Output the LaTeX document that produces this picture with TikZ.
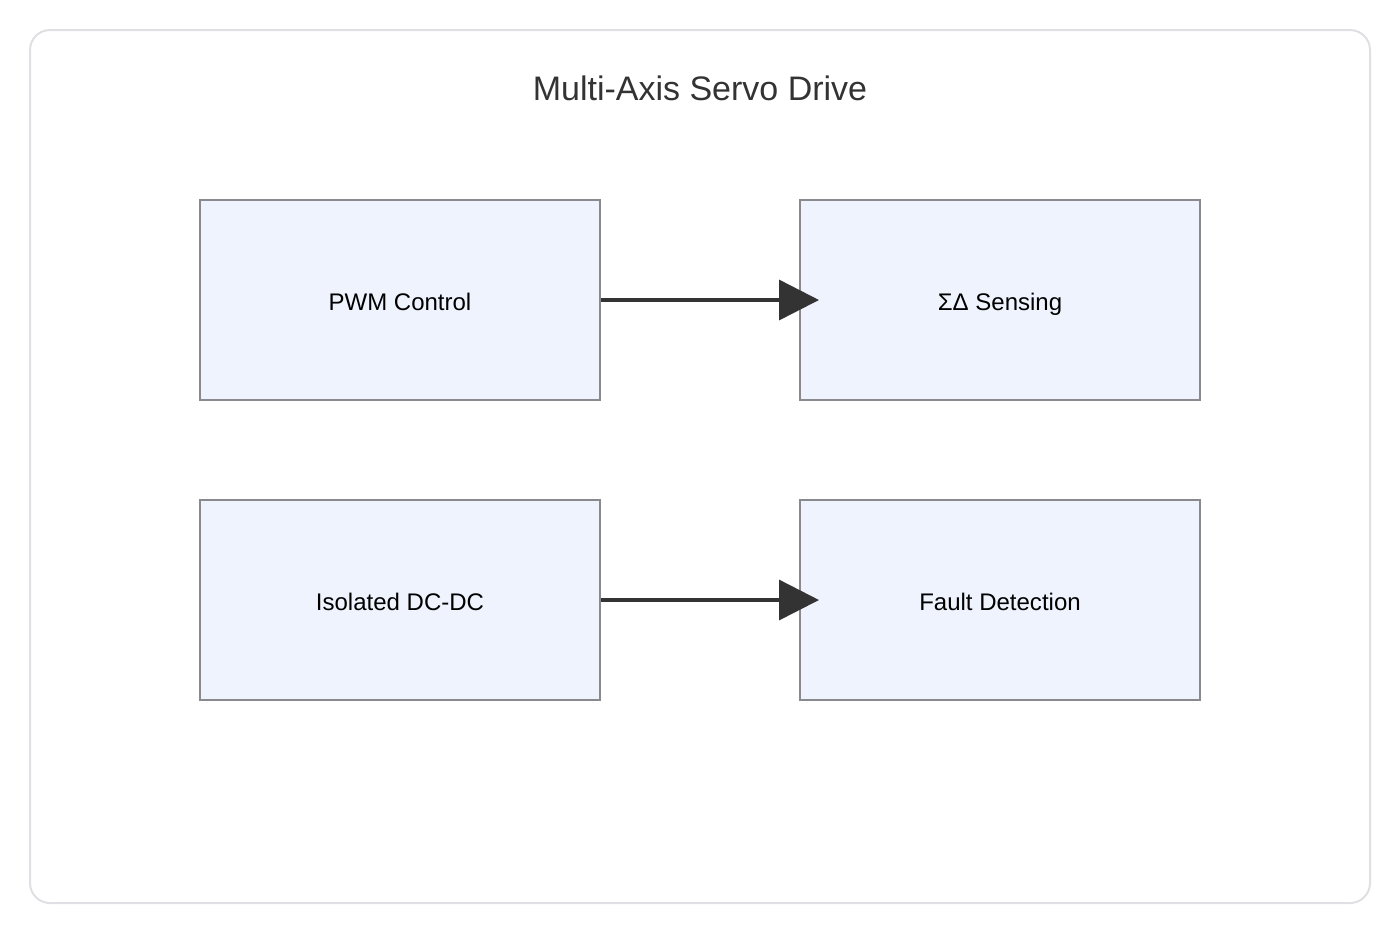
\documentclass[tikz,border=0pt]{standalone}
\usepackage{fontspec}
\setmainfont{Liberation Sans}
\usetikzlibrary{arrows.meta,positioning}
\definecolor{framegray}{HTML}{E0E0E4}
\definecolor{boxfill}{HTML}{EEF3FE}
\definecolor{boxline}{HTML}{8A8A8E}
\definecolor{arrowdark}{HTML}{333333}

\begin{document}
\begin{tikzpicture}[
  x=0.5pt,y=-0.5pt,
  block/.style={draw=boxline, fill=boxfill, line width=1pt,
    minimum width=200pt, minimum height=100pt, text height=10.6pt, text depth=0.4pt,
    font=\fontsize{12}{14}\selectfont},
  flow/.style={-{Triangle[length=20pt,width=20pt]}, line width=1.75pt,
    draw=arrowdark, shorten >=-10pt}
]
  \useasboundingbox (0,0) rectangle (1400,933);
  \draw[framegray, line width=1pt, rounded corners=10pt] (30,30) rectangle (1370,903);
  \node[text=arrowdark, font=\fontsize{17}{20}\selectfont] (title) at (700,88.5)
    {Multi-Axis Servo Drive};

  \node[block] (pwm) at (400,300) {PWM Control};
  \node[block] (sensing) at (1000,300) {ΣΔ Sensing};
  \node[block] (dcdc) at (400,600) {Isolated DC-DC};
  \node[block] (fault) at (1000,600) {Fault Detection};

  \draw[flow] (pwm) -- (sensing);
  \draw[flow] (dcdc) -- (fault);
\end{tikzpicture}
\end{document}
